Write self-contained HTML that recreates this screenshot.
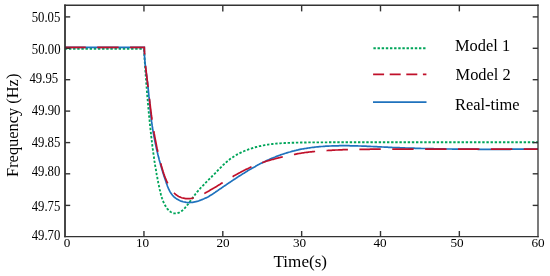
<!DOCTYPE html>
<html><head><meta charset="utf-8"><style>
html,body{margin:0;padding:0;background:#fff;}
svg{display:block;}
</style></head><body>
<svg width="550" height="276" viewBox="0 0 550 276">
<rect width="550" height="276" fill="#fff"/>
<path d="M65.00 48.90L144.00 48.90" fill="none" stroke="#00a55a" stroke-width="1.85" stroke-dasharray="2.4 1.742" stroke-dashoffset="0.2"/>
<path d="M144.06 48.89L144.1 50.0L144.2 51.1L144.2 52.3L144.3 53.4L144.4 54.5L144.4 55.6L144.5 56.8L144.6 57.9L144.6 59.0L144.7 60.1L144.8 61.3L144.8 62.4L144.9 63.5L145.0 64.6L145.1 65.7L145.1 66.9L145.2 68.0L145.3 69.1L145.4 70.2L145.4 71.4L145.5 72.5L145.6 73.6L145.7 74.7L145.7 75.8L145.8 77.0L145.9 78.1L146.0 79.2L146.1 80.3L146.1 81.5L146.2 82.6L146.3 83.7L146.4 84.8L146.5 85.9L146.6 87.1L146.7 88.2L146.7 89.3L146.8 90.4L146.9 91.5L147.0 92.7L147.1 93.8L147.2 94.9L147.3 96.0L147.4 97.1L147.5 98.3L147.6 99.4L147.7 100.5L147.8 101.6L147.9 102.7L148.0 103.8L148.1 105.0L148.2 106.1L148.3 107.2L148.4 108.3L148.5 109.4L148.6 110.6L148.7 111.7L148.8 112.8L148.9 113.9L149.0 115.0L149.1 116.2L149.2 117.3L149.3 118.4L149.5 119.5L149.6 120.6L149.7 121.8L149.8 122.9L149.9 124.0L150.0 125.1L150.1 126.2L150.3 127.4L150.4 128.5L150.5 129.6L150.6 130.7L150.7 131.8L150.9 133.0L151.0 134.1L151.1 135.2L151.2 136.3L151.4 137.4L151.5 138.6L151.6 139.7L151.8 140.8L151.9 141.9L152.0 143.0L152.2 144.1L152.3 145.3L152.4 146.4L152.6 147.5L152.7 148.6L152.9 149.7L153.0 150.8L153.2 152.0L153.3 153.1L153.5 154.2L153.6 155.3L153.8 156.4L154.0 157.5L154.1 158.6L154.3 159.8L154.4 160.9L154.6 162.0L154.8 163.1L155.0 164.2L155.1 165.3L155.3 166.4L155.5 167.5L155.7 168.6L155.9 169.7L156.1 170.9L156.3 172.0L156.5 173.1L156.6 174.2L156.8 175.3L157.1 176.4L157.3 177.5L157.5 178.6L157.7 179.7L157.9 180.8L158.1 181.9L158.3 183.0L158.6 184.1L158.8 185.2L159.0 186.3L159.3 187.4L159.5 188.5L159.7 189.5L160.0 190.6L160.2 191.7L160.5 192.8L160.8 193.9L161.0 195.0L161.3 196.1L161.7 197.1L162.0 198.2L162.4 199.3L162.7 200.3L163.2 201.4L163.6 202.5L164.1 203.5L164.7 204.6L165.2 205.6L165.9 206.6L166.5 207.6L167.2 208.6L168.0 209.5L168.8 210.3L169.6 211.1L170.4 211.8L171.3 212.3L172.3 212.8L173.2 213.2L174.2 213.4L175.3 213.4L176.3 213.4L177.4 213.2L178.4 212.8L179.5 212.4L180.5 211.8L181.4 211.2L182.3 210.5L183.2 209.7L184.0 208.9L184.8 208.1L185.6 207.2L186.4 206.3L187.1 205.4L187.8 204.5L188.5 203.6L189.2 202.7L189.8 201.8L190.5 200.8L191.2 199.9L191.8 199.0L192.5 198.1L193.1 197.2L193.8 196.3L194.5 195.4L195.1 194.5L195.8 193.6L196.5 192.8L197.2 191.9L197.9 191.1L198.7 190.2L199.4 189.4L200.1 188.5L200.9 187.7L201.7 186.9L202.4 186.1L203.2 185.3L204.0 184.5L204.7 183.7L205.5 182.9L206.3 182.1L207.1 181.3L207.9 180.5L208.7 179.7L209.5 178.9L210.3 178.1L211.1 177.3L211.9 176.5L212.7 175.7L213.5 174.9L214.3 174.1L215.1 173.3L215.9 172.5L216.6 171.7L217.4 170.8L218.2 170.0L219.0 169.2L219.8 168.4L220.6 167.6L221.4 166.8L222.2 166.0L223.0 165.2L223.8 164.4L224.7 163.7L225.5 162.9L226.3 162.2L227.2 161.4L228.1 160.7L228.9 160.0L229.8 159.3L230.7 158.6L231.6 158.0L232.5 157.4L233.5 156.7L234.4 156.1L235.4 155.6L236.3 155.0L237.3 154.4L238.3 153.9L239.3 153.4L240.3 152.9L241.3 152.4L242.3 151.9L243.3 151.5L244.3 151.0L245.4 150.6L246.4 150.2L247.5 149.8L248.5 149.4L249.6 149.0L250.7 148.6L251.7 148.3L252.8 148.0L253.9 147.6L255.0 147.3L256.0 147.0L257.1 146.8L258.2 146.5L259.3 146.2L260.4 146.0L261.5 145.7L262.6 145.5L263.7 145.3L264.8 145.1L265.9 144.9L267.0 144.7L268.1 144.6L269.3 144.4L270.4 144.3L271.5 144.1L272.6 144.0L273.7 143.9L274.8 143.7L275.9 143.6L277.1 143.5L278.2 143.4L279.3 143.4L280.4 143.3L281.5 143.2L282.7 143.1L283.8 143.1L284.9 143.0L286.0 143.0L287.2 142.9L288.3 142.9L289.4 142.8L290.5 142.8L291.7 142.7L292.8 142.7L293.9 142.7L295.0 142.7L296.2 142.6L297.3 142.6L298.4 142.6L299.6 142.6L300.7 142.5L301.8 142.5L302.9 142.5L304.1 142.5L305.2 142.5L306.3 142.5L307.4 142.4L308.6 142.4L309.7 142.4L310.8 142.4L311.9 142.4L313.1 142.4L314.2 142.4L315.3 142.4L316.5 142.3L317.6 142.3L318.7 142.3L319.8 142.3L321.0 142.3L322.1 142.3L323.2 142.3L324.3 142.3L325.5 142.3L326.6 142.3L327.7 142.3L328.8 142.2L330.0 142.2L331.1 142.2L332.2 142.2L333.3 142.2L334.5 142.2L335.6 142.2L336.7 142.2L337.8 142.2L339.0 142.2L340.1 142.2L341.2 142.2L342.3 142.2L343.4 142.2L344.6 142.2L345.7 142.2L346.8 142.2L347.9 142.2L349.1 142.2L350.2 142.2L351.3 142.2L352.4 142.2L353.6 142.2L354.7 142.2L355.8 142.2L356.9 142.2L358.1 142.2L359.2 142.2L360.3 142.2L361.4 142.2L362.6 142.2L363.7 142.2L364.8 142.2L365.9 142.2L367.1 142.2L368.2 142.2L369.3 142.2L370.4 142.2L371.5 142.2L372.7 142.2L373.8 142.2L374.9 142.2L376.0 142.2L377.2 142.2L378.3 142.2L379.4 142.2L380.5 142.2L381.7 142.2L382.8 142.2L383.9 142.2L385.0 142.2L386.2 142.2L387.3 142.2L388.4 142.2L389.5 142.2L390.7 142.2L391.8 142.2L392.9 142.2L394.0 142.2L395.2 142.2L396.3 142.2L397.4 142.2L398.5 142.2L399.7 142.2L400.8 142.2L401.9 142.2L403.0 142.2L404.2 142.2L405.3 142.2L406.4 142.2L407.5 142.2L408.7 142.2L409.8 142.2L410.9 142.2L412.0 142.2L413.1 142.2L414.3 142.2L415.4 142.2L416.5 142.2L417.6 142.2L418.8 142.2L419.9 142.2L421.0 142.2L422.1 142.2L423.3 142.2L424.4 142.2L425.5 142.2L426.6 142.2L427.8 142.2L428.9 142.2L430.0 142.2L431.1 142.2L432.3 142.2L433.4 142.2L434.5 142.2L435.6 142.2L436.8 142.2L437.9 142.2L439.0 142.2L440.1 142.2L441.3 142.2L442.4 142.2L443.5 142.2L444.6 142.2L445.8 142.2L446.9 142.2L448.0 142.2L449.1 142.2L450.3 142.2L451.4 142.2L452.5 142.2L453.6 142.2L454.8 142.2L455.9 142.2L457.0 142.2L458.1 142.2L459.3 142.2L460.4 142.2L461.5 142.2L462.6 142.2L463.8 142.2L464.9 142.2L466.0 142.2L467.1 142.2L468.3 142.2L469.4 142.2L470.5 142.2L471.6 142.2L472.8 142.2L473.9 142.2L475.0 142.2L476.1 142.2L477.3 142.2L478.4 142.2L479.5 142.2L480.6 142.2L481.8 142.2L482.9 142.2L484.0 142.2L485.1 142.2L486.3 142.2L487.4 142.2L488.5 142.2L489.6 142.2L490.8 142.2L491.9 142.2L493.0 142.2L494.1 142.2L495.3 142.2L496.4 142.2L497.5 142.2L498.6 142.2L499.8 142.2L500.9 142.2L502.0 142.2L503.1 142.2L504.3 142.2L505.4 142.2L506.5 142.2L507.6 142.2L508.8 142.2L509.9 142.2L511.0 142.2L512.1 142.2L513.3 142.2L514.4 142.2L515.5 142.2L516.6 142.2L517.8 142.2L518.9 142.2L520.0 142.2L521.1 142.2L522.3 142.2L523.4 142.2L524.5 142.2L525.6 142.2L526.8 142.2L527.9 142.2L529.0 142.2L530.1 142.2L531.2 142.2L532.4 142.2L533.5 142.2L534.6 142.2L535.7 142.2L536.9 142.2L538.0 142.2" fill="none" stroke="#00a55a" stroke-width="1.85" stroke-dasharray="2.4 1.742" stroke-dashoffset="3.72"/>
<path d="M65.00 47.35L144.3 47.3L144.3 48.4L144.3 49.5L144.3 50.6L144.3 51.6L144.4 52.7L144.4 53.8L144.4 54.8L144.5 55.9L144.6 57.0L144.6 58.0L144.7 59.1L144.8 60.2L144.9 61.2L145.0 62.3L145.1 63.3L145.2 64.4L145.3 65.5L145.5 66.5L145.6 67.6L145.7 68.6L145.8 69.7L146.0 70.8L146.1 71.8L146.2 72.9L146.4 73.9L146.5 75.0L146.7 76.0L146.8 77.1L146.9 78.2L147.1 79.2L147.2 80.3L147.3 81.3L147.5 82.4L147.6 83.5L147.7 84.5L147.8 85.6L148.0 86.6L148.1 87.7L148.2 88.8L148.3 89.8L148.4 90.9L148.5 92.0L148.6 93.0L148.7 94.1L148.8 95.1L148.9 96.2L149.1 97.3L149.2 98.3L149.3 99.4L149.4 100.5L149.5 101.5L149.6 102.6L149.7 103.6L149.8 104.7L149.9 105.8L150.0 106.8L150.1 107.9L150.2 109.0L150.3 110.0L150.4 111.1L150.5 112.1L150.6 113.2L150.7 114.3L150.9 115.3L151.0 116.4L151.1 117.5L151.2 118.5L151.4 119.6L151.5 120.6L151.6 121.7L151.8 122.7L151.9 123.8L152.1 124.9L152.2 125.9L152.4 127.0L152.5 128.0L152.7 129.1L152.9 130.1L153.0 131.2L153.2 132.3L153.4 133.3L153.6 134.4L153.8 135.4L154.0 136.5L154.2 137.5L154.4 138.6L154.6 139.6L154.8 140.7L155.0 141.7L155.2 142.7L155.4 143.8L155.7 144.8L155.9 145.9L156.1 146.9L156.3 148.0L156.6 149.0L156.8 150.0L157.1 151.1L157.3 152.1L157.6 153.2L157.8 154.2L158.1 155.2L158.3 156.3L158.6 157.3L158.9 158.3L159.1 159.4L159.4 160.4L159.7 161.4L160.0 162.4L160.3 163.5L160.5 164.5L160.8 165.5L161.1 166.5L161.4 167.6L161.7 168.6L162.0 169.6L162.3 170.6L162.6 171.6L162.9 172.7L163.3 173.7L163.6 174.7L163.9 175.7L164.2 176.7L164.6 177.8L164.9 178.8L165.3 179.8L165.6 180.8L166.0 181.8L166.3 182.9L166.7 183.9L167.1 184.9L167.4 186.0L167.8 187.0L168.2 188.0L168.7 189.0L169.1 190.0L169.6 190.9L170.1 191.9L170.7 192.8L171.2 193.6L171.9 194.5L172.5 195.3L173.3 196.1L174.0 196.8L174.8 197.5L175.6 198.1L176.5 198.7L177.3 199.3L178.3 199.8L179.2 200.3L180.1 200.7L181.1 201.1L182.1 201.4L183.1 201.7L184.2 202.0L185.2 202.2L186.3 202.4L187.3 202.5L188.4 202.5L189.5 202.6L190.5 202.5L191.6 202.4L192.7 202.3L193.7 202.1L194.8 201.9L195.9 201.7L196.9 201.4L198.0 201.1L199.0 200.8L200.0 200.4L201.0 200.0L202.0 199.6L203.0 199.2L204.0 198.8L205.0 198.3L206.0 197.9L206.9 197.4L207.9 196.9L208.8 196.4L209.7 195.8L210.6 195.3L211.5 194.7L212.4 194.2L213.3 193.6L214.2 193.0L215.1 192.4L215.9 191.8L216.8 191.2L217.7 190.6L218.5 190.0L219.4 189.4L220.3 188.8L221.2 188.2L222.0 187.6L222.9 187.0L223.8 186.4L224.7 185.8L225.6 185.2L226.4 184.6L227.3 184.0L228.2 183.4L229.1 182.8L230.0 182.2L230.9 181.6L231.8 181.0L232.7 180.4L233.6 179.8L234.4 179.2L235.3 178.7L236.2 178.1L237.1 177.5L238.0 176.9L238.9 176.3L239.8 175.7L240.7 175.2L241.6 174.6L242.5 174.0L243.4 173.4L244.4 172.9L245.3 172.3L246.2 171.8L247.1 171.2L248.0 170.6L248.9 170.1L249.8 169.5L250.8 169.0L251.7 168.5L252.6 167.9L253.5 167.4L254.5 166.9L255.4 166.4L256.3 165.8L257.3 165.3L258.2 164.8L259.2 164.3L260.1 163.8L261.1 163.3L262.0 162.9L263.0 162.4L263.9 161.9L264.9 161.5L265.9 161.0L266.8 160.5L267.8 160.1L268.8 159.7L269.7 159.2L270.7 158.8L271.7 158.4L272.7 158.0L273.7 157.6L274.7 157.2L275.6 156.8L276.6 156.4L277.6 156.0L278.6 155.6L279.6 155.3L280.6 154.9L281.6 154.5L282.6 154.2L283.7 153.9L284.7 153.5L285.7 153.2L286.7 152.9L287.7 152.6L288.7 152.3L289.8 152.0L290.8 151.7L291.8 151.4L292.8 151.1L293.9 150.9L294.9 150.6L295.9 150.4L297.0 150.1L298.0 149.9L299.1 149.6L300.1 149.4L301.2 149.2L302.2 149.0L303.3 148.8L304.3 148.6L305.4 148.5L306.4 148.3L307.5 148.1L308.5 148.0L309.6 147.8L310.7 147.7L311.7 147.5L312.8 147.4L313.8 147.3L314.9 147.1L316.0 147.0L317.0 146.9L318.1 146.8L319.2 146.7L320.2 146.6L321.3 146.5L322.4 146.5L323.4 146.4L324.5 146.3L325.6 146.2L326.6 146.2L327.7 146.1L328.8 146.1L329.8 146.0L330.9 146.0L332.0 145.9L333.1 145.9L334.1 145.9L335.2 145.8L336.3 145.8L337.3 145.8L338.4 145.8L339.5 145.7L340.5 145.7L341.6 145.7L342.7 145.7L343.7 145.7L344.8 145.7L345.9 145.7L346.9 145.7L348.0 145.7L349.1 145.7L350.1 145.8L351.2 145.8L352.3 145.8L353.3 145.8L354.4 145.8L355.5 145.9L356.5 145.9L357.6 145.9L358.7 146.0L359.7 146.0L360.8 146.0L361.9 146.1L362.9 146.1L364.0 146.1L365.1 146.2L366.1 146.2L367.2 146.3L368.3 146.3L369.3 146.4L370.4 146.4L371.5 146.5L372.5 146.5L373.6 146.6L374.7 146.6L375.7 146.7L376.8 146.7L377.9 146.8L378.9 146.8L380.0 146.9L381.1 146.9L382.1 147.0L383.2 147.0L384.3 147.1L385.3 147.1L386.4 147.2L387.5 147.2L388.5 147.3L389.6 147.3L390.7 147.4L391.7 147.4L392.8 147.5L393.9 147.5L394.9 147.5L396.0 147.6L397.1 147.6L398.1 147.7L399.2 147.7L400.3 147.8L401.3 147.8L402.4 147.8L403.5 147.9L404.5 147.9L405.6 148.0L406.7 148.0L407.7 148.0L408.8 148.1L409.9 148.1L410.9 148.1L412.0 148.2L413.1 148.2L414.1 148.2L415.2 148.3L416.3 148.3L417.3 148.3L418.4 148.4L419.5 148.4L420.5 148.4L421.6 148.5L422.7 148.5L423.7 148.5L424.8 148.5L425.9 148.6L426.9 148.6L428.0 148.6L429.1 148.6L430.1 148.7L431.2 148.7L432.3 148.7L433.3 148.7L434.4 148.8L435.5 148.8L436.6 148.8L437.6 148.8L438.7 148.8L439.8 148.9L440.8 148.9L441.9 148.9L443.0 148.9L444.0 148.9L445.1 148.9L446.2 149.0L447.2 149.0L448.3 149.0L449.4 149.0L450.4 149.0L451.5 149.0L452.6 149.1L453.6 149.1L454.7 149.1L455.8 149.1L456.8 149.1L457.9 149.1L459.0 149.1L460.0 149.1L461.1 149.1L462.2 149.2L463.2 149.2L464.3 149.2L465.4 149.2L466.4 149.2L467.5 149.2L468.6 149.2L469.7 149.2L470.7 149.2L471.8 149.2L472.9 149.2L473.9 149.2L475.0 149.2L476.1 149.2L477.1 149.2L478.2 149.3L479.3 149.3L480.3 149.3L481.4 149.3L482.5 149.3L483.5 149.3L484.6 149.3L485.7 149.3L486.7 149.3L487.8 149.3L488.9 149.3L489.9 149.3L491.0 149.3L492.1 149.3L493.1 149.3L494.2 149.3L495.3 149.3L496.4 149.3L497.4 149.3L498.5 149.3L499.6 149.3L500.6 149.3L501.7 149.3L502.8 149.3L503.8 149.3L504.9 149.3L506.0 149.3L507.0 149.3L508.1 149.3L509.2 149.3L510.2 149.3L511.3 149.2L512.4 149.2L513.4 149.2L514.5 149.2L515.6 149.2L516.6 149.2L517.7 149.2L518.8 149.2L519.8 149.2L520.9 149.2L522.0 149.2L523.0 149.2L524.1 149.2L525.2 149.2L526.3 149.2L527.3 149.2L528.4 149.2L529.5 149.2L530.5 149.2L531.6 149.2L532.7 149.2L533.7 149.1L534.8 149.1L535.9 149.1L536.9 149.1L538.0 149.1" fill="none" stroke="#1f72bd" stroke-width="1.7" />
<path d="M65.00 47.35L144.3 47.3L144.4 48.4L144.4 49.5L144.4 50.5L144.5 51.6L144.5 52.6L144.6 53.7L144.6 54.7L144.7 55.8L144.7 56.8L144.8 57.9L144.9 58.9L145.0 60.0L145.1 61.0L145.2 62.1L145.3 63.1L145.4 64.2L145.5 65.2L145.6 66.3L145.7 67.3L145.8 68.4L145.9 69.4L146.0 70.5L146.2 71.5L146.3 72.5L146.4 73.6L146.5 74.6L146.7 75.7L146.8 76.7L146.9 77.8L147.1 78.8L147.2 79.9L147.3 80.9L147.5 82.0L147.6 83.0L147.7 84.0L147.8 85.1L148.0 86.1L148.1 87.2L148.2 88.2L148.3 89.3L148.5 90.3L148.6 91.4L148.7 92.4L148.8 93.5L148.9 94.5L149.1 95.6L149.2 96.6L149.3 97.7L149.4 98.7L149.6 99.8L149.7 100.8L149.8 101.8L149.9 102.9L150.0 103.9L150.2 105.0L150.3 106.0L150.4 107.1L150.5 108.1L150.7 109.2L150.8 110.2L150.9 111.3L151.1 112.3L151.2 113.4L151.3 114.4L151.5 115.5L151.6 116.5L151.7 117.5L151.9 118.6L152.0 119.6L152.2 120.7L152.3 121.7L152.5 122.8L152.6 123.8L152.8 124.8L152.9 125.9L153.1 126.9L153.3 128.0L153.4 129.0L153.6 130.0L153.8 131.1L154.0 132.1L154.1 133.2L154.3 134.2L154.5 135.2L154.7 136.3L154.9 137.3L155.1 138.3L155.3 139.4L155.5 140.4L155.7 141.4L155.9 142.5L156.1 143.5L156.3 144.5L156.5 145.6L156.7 146.6L156.9 147.6L157.1 148.7L157.4 149.7L157.6 150.7L157.8 151.7L158.1 152.8L158.3 153.8L158.6 154.8L158.8 155.8L159.0 156.9L159.3 157.9L159.6 158.9L159.8 159.9L160.1 160.9L160.3 162.0L160.6 163.0L160.9 164.0L161.2 165.0L161.4 166.0L161.7 167.1L162.0 168.1L162.3 169.1L162.6 170.1L162.9 171.1L163.2 172.1L163.6 173.1L163.9 174.1L164.3 175.1L164.6 176.1L165.0 177.1L165.4 178.1L165.8 179.0L166.2 180.0L166.6 181.0L167.0 182.0L167.5 182.9L167.9 183.9L168.4 184.8L168.9 185.8L169.4 186.7L169.9 187.6L170.5 188.5L171.1 189.4L171.7 190.3L172.4 191.1L173.1 191.9L173.8 192.7L174.5 193.4L175.3 194.1L176.1 194.8L177.0 195.4L177.9 196.0L178.7 196.5L179.7 196.9L180.6 197.3L181.6 197.7L182.6 198.0L183.6 198.2L184.6 198.4L185.7 198.6L186.7 198.6L187.8 198.7L188.8 198.7L189.8 198.6L190.9 198.5L191.9 198.3L192.9 198.1L193.9 197.9L194.9 197.6L195.9 197.3L196.9 196.9L197.9 196.5L198.9 196.1L199.9 195.7L200.8 195.2L201.8 194.8L202.8 194.3L203.7 193.8L204.7 193.3L205.6 192.8L206.5 192.2L207.5 191.7L208.4 191.2L209.3 190.7L210.3 190.1L211.2 189.6L212.1 189.1L213.0 188.5L213.9 188.0L214.8 187.4L215.7 186.9L216.6 186.4L217.5 185.8L218.4 185.3L219.3 184.7L220.2 184.2L221.1 183.6L222.0 183.1L222.9 182.6L223.8 182.0L224.7 181.5L225.5 180.9L226.4 180.4L227.3 179.9L228.2 179.3L229.1 178.8L230.0 178.2L230.9 177.7L231.8 177.2L232.7 176.7L233.6 176.1L234.5 175.6L235.5 175.1L236.4 174.6L237.3 174.0L238.2 173.5L239.1 173.0L240.1 172.5L241.0 172.0L241.9 171.5L242.9 171.0L243.8 170.5L244.8 170.1L245.7 169.6L246.7 169.1L247.6 168.7L248.6 168.2L249.5 167.8L250.5 167.3L251.4 166.9L252.4 166.5L253.4 166.0L254.3 165.6L255.3 165.2L256.3 164.8L257.3 164.4L258.3 164.1L259.2 163.7L260.2 163.3L261.2 163.0L262.2 162.6L263.2 162.3L264.2 162.0L265.2 161.6L266.2 161.3L267.2 161.0L268.2 160.7L269.2 160.4L270.2 160.1L271.3 159.8L272.3 159.5L273.3 159.3L274.3 159.0L275.3 158.7L276.3 158.4L277.4 158.2L278.4 157.9L279.4 157.7L280.4 157.4L281.4 157.2L282.5 156.9L283.5 156.7L284.5 156.5L285.6 156.2L286.6 156.0L287.6 155.8L288.6 155.5L289.7 155.3L290.7 155.1L291.7 154.9L292.8 154.7L293.8 154.5L294.8 154.3L295.9 154.1L296.9 153.9L297.9 153.7L299.0 153.5L300.0 153.3L301.1 153.2L302.1 153.0L303.1 152.8L304.2 152.7L305.2 152.5L306.3 152.4L307.3 152.3L308.4 152.1L309.4 152.0L310.5 151.9L311.5 151.8L312.6 151.7L313.6 151.6L314.7 151.5L315.7 151.4L316.8 151.3L317.8 151.2L318.9 151.1L319.9 151.0L321.0 150.9L322.0 150.9L323.1 150.8L324.1 150.7L325.2 150.6L326.2 150.6L327.3 150.5L328.3 150.4L329.4 150.4L330.4 150.3L331.5 150.3L332.5 150.2L333.6 150.1L334.6 150.1L335.7 150.0L336.7 150.0L337.8 150.0L338.8 149.9L339.9 149.9L340.9 149.8L342.0 149.8L343.0 149.7L344.1 149.7L345.1 149.7L346.2 149.6L347.2 149.6L348.3 149.6L349.4 149.6L350.4 149.5L351.5 149.5L352.5 149.5L353.6 149.5L354.6 149.4L355.7 149.4L356.7 149.4L357.8 149.4L358.8 149.4L359.9 149.4L360.9 149.3L362.0 149.3L363.1 149.3L364.1 149.3L365.2 149.3L366.2 149.3L367.3 149.3L368.3 149.3L369.4 149.3L370.4 149.2L371.5 149.2L372.5 149.2L373.6 149.2L374.6 149.2L375.7 149.2L376.8 149.2L377.8 149.2L378.9 149.2L379.9 149.2L381.0 149.2L382.0 149.2L383.1 149.2L384.1 149.2L385.2 149.2L386.2 149.2L387.3 149.2L388.4 149.2L389.4 149.2L390.5 149.2L391.5 149.2L392.6 149.2L393.6 149.1L394.7 149.1L395.7 149.1L396.8 149.1L397.8 149.1L398.9 149.1L399.9 149.1L401.0 149.1L402.1 149.1L403.1 149.1L404.2 149.1L405.2 149.1L406.3 149.1L407.3 149.1L408.4 149.1L409.4 149.1L410.5 149.1L411.5 149.1L412.6 149.1L413.6 149.1L414.7 149.1L415.8 149.1L416.8 149.1L417.9 149.1L418.9 149.1L420.0 149.1L421.0 149.1L422.1 149.1L423.1 149.1L424.2 149.1L425.2 149.1L426.3 149.1L427.3 149.1L428.4 149.1L429.5 149.1L430.5 149.1L431.6 149.1L432.6 149.1L433.7 149.1L434.7 149.1L435.8 149.1L436.8 149.1L437.9 149.1L438.9 149.1L440.0 149.1L441.0 149.1L442.1 149.1L443.2 149.1L444.2 149.1L445.3 149.1L446.3 149.1L447.4 149.1L448.4 149.1L449.5 149.1L450.5 149.1L451.6 149.1L452.6 149.1L453.7 149.1L454.7 149.1L455.8 149.1L456.9 149.1L457.9 149.1L459.0 149.1L460.0 149.1L461.1 149.1L462.1 149.1L463.2 149.1L464.2 149.1L465.3 149.1L466.3 149.1L467.4 149.1L468.4 149.1L469.5 149.1L470.6 149.1L471.6 149.1L472.7 149.1L473.7 149.2L474.8 149.2L475.8 149.2L476.9 149.2L477.9 149.2L479.0 149.2L480.0 149.2L481.1 149.2L482.1 149.2L483.2 149.2L484.3 149.2L485.3 149.2L486.4 149.2L487.4 149.2L488.5 149.2L489.5 149.2L490.6 149.2L491.6 149.2L492.7 149.2L493.7 149.2L494.8 149.2L495.8 149.2L496.9 149.2L498.0 149.2L499.0 149.2L500.1 149.2L501.1 149.2L502.2 149.2L503.2 149.2L504.3 149.2L505.3 149.2L506.4 149.2L507.4 149.2L508.5 149.2L509.5 149.2L510.6 149.2L511.7 149.2L512.7 149.2L513.8 149.2L514.8 149.2L515.9 149.2L516.9 149.2L518.0 149.2L519.0 149.2L520.1 149.2L521.1 149.2L522.2 149.2L523.2 149.2L524.3 149.2L525.4 149.2L526.4 149.2L527.5 149.2L528.5 149.2L529.6 149.2L530.6 149.2L531.7 149.2L532.7 149.2L533.8 149.2L534.8 149.2L535.9 149.2L536.9 149.2L538.0 149.2" fill="none" stroke="#c0102a" stroke-width="1.7" stroke-dasharray="21.4 11.48" stroke-dashoffset="33.55" />
<line x1="64.2" y1="5.3" x2="538.7" y2="5.3" stroke="#333333" stroke-width="1.4"/>
<line x1="64.2" y1="236.6" x2="538.7" y2="236.6" stroke="#333333" stroke-width="1.4"/>
<line x1="65.0" y1="4.6" x2="65.0" y2="237.3" stroke="#333333" stroke-width="1.8"/>
<line x1="538.0" y1="4.6" x2="538.0" y2="237.3" stroke="#333333" stroke-width="1.3"/>
<line x1="65.00" y1="16.90" x2="70.20" y2="16.90" stroke="#333333" stroke-width="1.4"/>
<line x1="538.00" y1="16.90" x2="532.70" y2="16.90" stroke="#333333" stroke-width="1.4"/>
<line x1="65.00" y1="48.30" x2="70.20" y2="48.30" stroke="#333333" stroke-width="1.4"/>
<line x1="538.00" y1="48.30" x2="532.70" y2="48.30" stroke="#333333" stroke-width="1.4"/>
<line x1="65.00" y1="79.70" x2="70.20" y2="79.70" stroke="#333333" stroke-width="1.4"/>
<line x1="538.00" y1="79.70" x2="532.70" y2="79.70" stroke="#333333" stroke-width="1.4"/>
<line x1="65.00" y1="111.10" x2="70.20" y2="111.10" stroke="#333333" stroke-width="1.4"/>
<line x1="538.00" y1="111.10" x2="532.70" y2="111.10" stroke="#333333" stroke-width="1.4"/>
<line x1="65.00" y1="142.60" x2="70.20" y2="142.60" stroke="#333333" stroke-width="1.4"/>
<line x1="538.00" y1="142.60" x2="532.70" y2="142.60" stroke="#333333" stroke-width="1.4"/>
<line x1="65.00" y1="173.80" x2="70.20" y2="173.80" stroke="#333333" stroke-width="1.4"/>
<line x1="538.00" y1="173.80" x2="532.70" y2="173.80" stroke="#333333" stroke-width="1.4"/>
<line x1="65.00" y1="205.40" x2="70.20" y2="205.40" stroke="#333333" stroke-width="1.4"/>
<line x1="538.00" y1="205.40" x2="532.70" y2="205.40" stroke="#333333" stroke-width="1.4"/>
<line x1="143.95" y1="236.60" x2="143.95" y2="231.00" stroke="#333333" stroke-width="1.4"/>
<line x1="143.95" y1="5.30" x2="143.95" y2="11.40" stroke="#333333" stroke-width="1.4"/>
<line x1="222.80" y1="236.60" x2="222.80" y2="231.00" stroke="#333333" stroke-width="1.4"/>
<line x1="222.80" y1="5.30" x2="222.80" y2="11.40" stroke="#333333" stroke-width="1.4"/>
<line x1="301.65" y1="236.60" x2="301.65" y2="231.00" stroke="#333333" stroke-width="1.4"/>
<line x1="301.65" y1="5.30" x2="301.65" y2="11.40" stroke="#333333" stroke-width="1.4"/>
<line x1="380.50" y1="236.60" x2="380.50" y2="231.00" stroke="#333333" stroke-width="1.4"/>
<line x1="380.50" y1="5.30" x2="380.50" y2="11.40" stroke="#333333" stroke-width="1.4"/>
<line x1="459.35" y1="236.60" x2="459.35" y2="231.00" stroke="#333333" stroke-width="1.4"/>
<line x1="459.35" y1="5.30" x2="459.35" y2="11.40" stroke="#333333" stroke-width="1.4"/>
<defs><filter id="soft" x="-0.05" y="-0.05" width="1.1" height="1.1"><feGaussianBlur stdDeviation="0.35"/></filter></defs>
<g font-family="Liberation Serif, serif" style="font-family:'Liberation Serif',serif" fill="#000" filter="url(#soft)">
<text x="31.65" y="22.40" font-size="14.00" textLength="28.70" lengthAdjust="spacingAndGlyphs">50.05</text>
<text x="31.85" y="54.00" font-size="14.00" textLength="28.70" lengthAdjust="spacingAndGlyphs">50.00</text>
<text x="29.45" y="82.60" font-size="14.00" textLength="28.70" lengthAdjust="spacingAndGlyphs">49.95</text>
<text x="31.75" y="114.80" font-size="14.00" textLength="28.70" lengthAdjust="spacingAndGlyphs">49.90</text>
<text x="31.65" y="147.00" font-size="14.00" textLength="28.70" lengthAdjust="spacingAndGlyphs">49.85</text>
<text x="31.65" y="175.50" font-size="14.00" textLength="28.70" lengthAdjust="spacingAndGlyphs">49.80</text>
<text x="31.65" y="211.00" font-size="14.00" textLength="28.70" lengthAdjust="spacingAndGlyphs">49.75</text>
<text x="31.65" y="240.00" font-size="14.00" textLength="28.70" lengthAdjust="spacingAndGlyphs">49.70</text>
<text x="67.10" y="247.40" font-size="13.00" text-anchor="middle" textLength="6.60" lengthAdjust="spacingAndGlyphs">0</text>
<text x="142.60" y="247.40" font-size="13.00" text-anchor="middle" textLength="13.20" lengthAdjust="spacingAndGlyphs">10</text>
<text x="223.05" y="247.40" font-size="13.00" text-anchor="middle" textLength="13.20" lengthAdjust="spacingAndGlyphs">20</text>
<text x="299.50" y="247.40" font-size="13.00" text-anchor="middle" textLength="13.20" lengthAdjust="spacingAndGlyphs">30</text>
<text x="380.00" y="247.40" font-size="13.00" text-anchor="middle" textLength="13.20" lengthAdjust="spacingAndGlyphs">40</text>
<text x="457.00" y="247.40" font-size="13.00" text-anchor="middle" textLength="13.20" lengthAdjust="spacingAndGlyphs">50</text>
<text x="538.05" y="247.40" font-size="13.00" text-anchor="middle" textLength="13.20" lengthAdjust="spacingAndGlyphs">60</text>
<text x="300.3" y="266.5" font-size="17.1" text-anchor="middle">Time(s)</text>
<text transform="translate(17.9 125.3) rotate(-90)" font-size="16.40" text-anchor="middle">Frequency (Hz)</text>
<text x="455" y="50.9" font-size="16.40">Model 1</text>
<text x="455.6" y="80.4" font-size="16.40">Model 2</text>
<text x="455" y="109.5" font-size="16.40">Real-time</text>
</g>
<line x1="373.4" y1="48.2" x2="427" y2="48.2" stroke="#00a55a" stroke-width="1.85" stroke-dasharray="2.4 1.742"/>
<line x1="373.1" y1="74.4" x2="426.4" y2="74.4" stroke="#c0102a" stroke-width="1.7" stroke-dasharray="11 5.6"/>
<line x1="373" y1="102.1" x2="426.5" y2="102.1" stroke="#1f72bd" stroke-width="1.7"/>
</svg>
</body></html>
